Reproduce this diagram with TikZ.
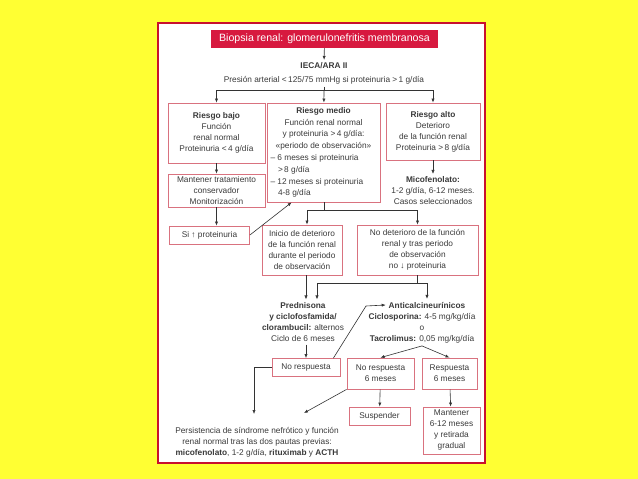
\documentclass[tikz,border=0pt]{standalone}
\usepackage{fontspec}
\setmainfont{Liberation Sans}
\usetikzlibrary{arrows.meta}
\definecolor{bgyellow}{HTML}{FFFF33}
\definecolor{framered}{HTML}{C8102E}
\definecolor{titlered}{HTML}{D7193F}
\definecolor{cellpink}{HTML}{D9727F}
\definecolor{inkgray}{HTML}{3A3A3A}
\begin{document}
\begin{tikzpicture}[x=1pt, y=-1pt,
  every node/.style={font=\fontsize{8.3}{11}\selectfont, text=inkgray},
  cell/.style={draw=cellpink, line width=0.8pt, align=center, inner sep=2pt},
  note/.style={align=center, inner sep=0pt, outer sep=3pt},
  link/.style={-{Latex[length=4pt,width=3.2pt]}, line width=0.6pt, draw=black!80},
  stub/.style={line width=0.6pt, draw=black!80}]
% page and frame
\fill[bgyellow] (0,0) rectangle (638,479);
\useasboundingbox (0,0) rectangle (638,479);
\draw[framered, line width=2pt, fill=white] (158,23) rectangle (485,463);
% top
\node[fill=titlered, text=white, minimum width=227pt, minimum height=18pt, inner sep=0pt, font=\fontsize{10.6}{12}\selectfont] (biopsy) at (324.5,39) {Biopsia renal: glomerulonefritis membranosa};
\node[note] (ieca) at (324,66) {\textbf{IECA/ARA II}};
\node[note] (pa) at (324,80) {Presión arterial <\,125/75 mmHg si proteinuria >\,1 g/día};
\coordinate (fork1) at (324,90);
% risk boxes
\node[cell, minimum width=97pt, minimum height=60pt] (low) at (216.5,133) {\textbf{Riesgo bajo}\\Función\\renal normal\\Proteinuria <\,4 g/día};
\node[cell, minimum width=113pt, minimum height=99pt, font=\fontsize{8.3}{11.8}\selectfont] (mid) at (323.5,152.5) {\textbf{Riesgo medio}\\Función renal normal\\y proteinuria >\,4 g/día:\\«periodo de observación»\\\makebox[106pt][l]{– 6 meses si proteinuria}\\\makebox[106pt][l]{\hspace{7.5pt}>\,8 g/día}\\\makebox[106pt][l]{– 12 meses si proteinuria}\\\makebox[106pt][l]{\hspace{7.5pt}4-8 g/día}};
\node[cell, minimum width=94pt, minimum height=57pt] (high) at (433,131.5) {\textbf{Riesgo alto}\\Deterioro\\de la función renal\\Proteinuria >\,8 g/día};
\node[cell, minimum width=97pt, minimum height=33pt] (keepon) at (216.5,190.5) {Mantener tratamiento\\conservador\\Monitorización};
\node[cell, minimum width=80pt, minimum height=18pt] (rise) at (209.5,235) {Si ↑ proteinuria};
\node[note] (mmf) at (433,191) {\textbf{Micofenolato:}\\1-2 g/día, 6-12 meses.\\Casos seleccionados};
% observation outcome
\coordinate (fork2) at (324,210);
\node[cell, minimum width=80pt, minimum height=50pt] (worse) at (302,250) {Inicio de deterioro\\de la función renal\\durante el periodo\\de observación};
\node[cell, minimum width=121pt, minimum height=50pt] (stable) at (417.5,250) {No deterioro de la función\\renal y tras periodo\\de observación\\no ↓ proteinuria};
% treatments
\node[note] (pred) at (303,322) {\textbf{Prednisona}\\\textbf{y ciclofosfamida/}\\\textbf{clorambucil:} alternos\\Ciclo de 6 meses};
\node[note] (cni) at (427,305) {\textbf{Anticalcineurínicos}};
\node[note] (drugs) at (422,328) {\textbf{Ciclosporina:} 4-5 mg/kg/día\\o\\\textbf{Tacrolimus:} 0,05 mg/kg/día};
\node[cell, minimum width=68pt, minimum height=18pt] (failA) at (306,367.5) {No respuesta};
\node[cell, minimum width=67pt, minimum height=31pt] (failB) at (380.5,373.5) {No respuesta\\6 meses};
\node[cell, minimum width=55pt, minimum height=31pt] (resp) at (449.5,373.5) {Respuesta\\6 meses};
\node[cell, minimum width=61pt, minimum height=18pt] (halt) at (379.5,416) {Suspender};
\node[cell, minimum width=57pt, minimum height=47pt] (taper) at (451.5,430.5) {Mantener\\6-12 meses\\y retirada\\gradual};
\node[note] (last) at (257,442) {Persistencia de síndrome nefrótico y función\\renal normal tras las dos pautas previas:\\\textbf{micofenolato}, 1-2 g/día, \textbf{rituximab} y \textbf{ACTH}};
\coordinate (bend1) at (366,306);
\coordinate (endB) at (254,414);
\coordinate (endC) at (304,413);
% connectors
\draw[link] (biopsy) -- (ieca);
\draw[stub] (pa) -- (fork1);
\draw[link] (fork1) -| (low);
\draw[link] (fork1) -- (mid);
\draw[link] (fork1) -| (high);
\draw[link] (low) -- (keepon);
\draw[link] (keepon.south) -- (keepon.south |- rise.north);
\draw[link] (rise.east) -- ([xshift=25pt]mid.south west);
\draw[link] (high) -- (mmf);
\draw[stub] (mid.south -| fork2) -- (fork2);
\draw[link] (fork2) -| ([xshift=5pt]worse.north);
\draw[link] (fork2) -| (stable.north);
\draw[link] ([xshift=4pt]worse.south) -- ([xshift=4pt]worse.south |- pred.north);
\draw[stub] (stable.south) -- ++(0,8) coordinate (fork3);
\draw[link] (fork3) -| ([xshift=14pt]pred.north);
\draw[link] (fork3) -| (cni.north);
\draw[link] ([xshift=3pt]pred.south) -- ([xshift=3pt]pred.south |- failA.north);
\draw[link] ([xshift=-7pt]failA.north east) -- (bend1) -- (cni.west);
\draw[link] (drugs.south) -- (failB.north);
\draw[link] (drugs.south) -- (resp.north);
\draw[link] (failB) -- (halt);
\draw[link] (resp) -- (taper);
\draw[link] (failA.west) -| (endB);
\draw[link] (failB.south west) -- (endC);
\end{tikzpicture}
\end{document}
